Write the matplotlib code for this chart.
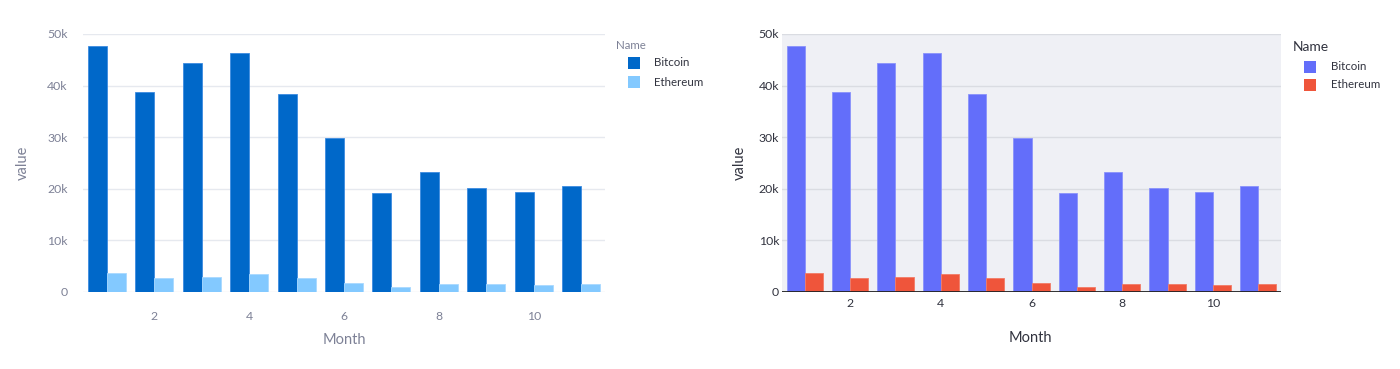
import matplotlib
matplotlib.use("Agg")
import matplotlib.pyplot as plt
from matplotlib.patches import Rectangle
import numpy as np

months = [1, 2, 3, 4, 5, 6, 7, 8, 9, 10, 11]
bitcoin = [47670, 38730, 44370, 46230, 38400, 29800, 19230, 23200, 20080, 19300, 20470]
ethereum = [3770, 2800, 2990, 3440, 2800, 1820, 1040, 1630, 1560, 1300, 1500]
series_names = ["Bitcoin", "Ethereum"]
xticks = [2, 4, 6, 8, 10]
yticks = [0, 10000, 20000, 30000, 40000, 50000]
ytick_labels = ["0", "10k", "20k", "30k", "40k", "50k"]

W, H = 1400, 369
fig = plt.figure(figsize=(W / 100, H / 100), dpi=100)
plt.rcParams['font.family'] = ['Lato', 'DejaVu Sans']

def ax_rect(x0, x1, y0, y1):
    return [x0 / W, (H - y1) / H, (x1 - x0) / W, (y1 - y0) / H]

def draw(ax, colors, edgecols, tick_color, title_color, grid_color, bg, zero_line, tick_pad_x, tick_pad_y):
    ax.set_facecolor(bg)
    x = np.array(months, dtype=float)
    w = 0.4
    ax.bar(x - w / 2, bitcoin, width=w, color=colors[0], edgecolor=edgecols[0], linewidth=0.6, zorder=3)
    ax.bar(x + w / 2, ethereum, width=w, color=colors[1], edgecolor=edgecols[1], linewidth=0.6, zorder=3)
    ax.set_xlim(0.5, 11.5)
    ax.set_ylim(0, 50000)
    ax.set_xticks(xticks)
    ax.set_xticklabels([str(t) for t in xticks])
    ax.set_yticks(yticks)
    ax.set_yticklabels(ytick_labels)
    ax.tick_params(axis='both', length=0, labelsize=8.8, colors=tick_color)
    ax.tick_params(axis='x', pad=tick_pad_x)
    ax.tick_params(axis='y', pad=tick_pad_y)
    ax.grid(axis='y', color=grid_color, linewidth=1, zorder=0)
    ax.set_axisbelow(True)
    for s in ax.spines.values():
        s.set_visible(False)
    if zero_line:
        ax.axhline(0, color='#222222', linewidth=1.3, zorder=4)

# Left chart (Streamlit theme)
ax1 = fig.add_axes(ax_rect(83, 605, 34, 292))
draw(ax1, ["#0068C9", "#83C9FF"], ["#3d8be0", "#a9d9ff"], "#7d8196", "#7d8196",
     "#e6e9ef", "white", False, 14, 11)
fig.text(23 / W, 1 - 163 / H, "value", rotation=90, ha='center', va='center', fontsize=10.5, color="#7d8196")
fig.text(344 / W, 1 - 340 / H, "Month", ha='center', va='center', fontsize=10.5, color="#7d8196")

# Right chart (plotly theme)
ax2 = fig.add_axes(ax_rect(782, 1281, 34, 292))
draw(ax2, ["#636EFA", "#EF553B"], ["#8a92fb", "#f27b66"], "#31333F", "#31333F",
     "#dadce2", "#eff0f5", True, 4, 2)
fig.text(740 / W, 1 - 163 / H, "value", rotation=90, ha='center', va='center', fontsize=10.5, color="#31333F")
fig.text(1030 / W, 1 - 338 / H, "Month", ha='center', va='center', fontsize=10.5, color="#31333F")

# Legends (manual)
def legend(x_title, y_title, x_sw, sw, x_txt, ys, colors, title_color, txt_color, title_size):
    fig.text(x_title / W, 1 - y_title / H, "Name", ha='left', va='center', fontsize=title_size, color=title_color)
    for name, c, y in zip(series_names, colors, ys):
        fig.add_artist(Rectangle((x_sw / W, 1 - (y + sw / 2) / H), sw / W, sw / H,
                                 transform=fig.transFigure, facecolor=c, edgecolor='none'))
        fig.text(x_txt / W, 1 - y / H, name, ha='left', va='center', fontsize=8.3, color=txt_color)

legend(616, 45.5, 628, 12, 654, [63, 82], ["#0068C9", "#83C9FF"], "#7d8196", "#31333F", 8.3)
legend(1293, 47, 1304, 12, 1331, [67, 85], ["#636EFA", "#EF553B"], "#31333F", "#31333F", 10)

fig.savefig("out.png", dpi=100)
